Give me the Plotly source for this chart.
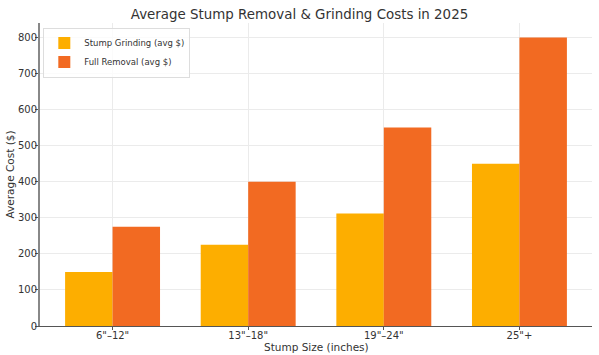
import plotly.graph_objects as go

categories = ['6"–12"', '13"–18"', '19"–24"', '25"+']
grinding = [150, 225, 312, 450]
removal = [275, 400, 550, 800]
y_ticks = [0, 100, 200, 300, 400, 500, 600, 700, 800]

x_pos = list(range(len(categories)))
bw = 0.35

fig = go.Figure()
fig.add_trace(go.Bar(
    x=[p - bw / 2 for p in x_pos], y=grinding, width=bw,
    name="Stump Grinding (avg $)", marker=dict(color="#FDAE00", line=dict(width=0)),
))
fig.add_trace(go.Bar(
    x=[p + bw / 2 for p in x_pos], y=removal, width=bw,
    name="Full Removal (avg $)", marker=dict(color="#F26A22", line=dict(width=0)),
))

font_family = "DejaVu Sans"
fig.update_layout(
    width=599, height=355,
    margin=dict(l=40, r=7, t=23, b=29),
    paper_bgcolor="white", plot_bgcolor="white",
    font=dict(family=font_family, size=10, color="#333"),
    title=dict(text="Average Stump Removal & Grinding Costs in 2025",
               x=0.5, xanchor="center", yref="container", y=1 - 14 / 355, yanchor="middle",
               font=dict(size=13.4, color="#333")),
    barmode="overlay",
    showlegend=True,
    legend=dict(x=0.006, y=0.985, xanchor="left", yanchor="top",
                bgcolor="rgba(255,255,255,0.8)", bordercolor="#ddd", borderwidth=1,
                font=dict(size=8.5, color="#333"), itemwidth=30, tracegroupgap=0),
    xaxis=dict(
        range=[-0.535, 3.535], tickmode="array", tickvals=x_pos, ticktext=categories,
        showgrid=True, gridcolor="#ebebeb", gridwidth=1,
        showline=True, linecolor="#555", linewidth=1,
        ticks="", ticklen=0,
        minor=dict(tickmode="array", tickvals=x_pos, ticks="outside", ticklen=3,
                   tickcolor="#555", showgrid=False),
        tickfont=dict(size=10, color="#333"),
        zeroline=False, automargin=False,
    ),
    yaxis=dict(
        range=[0, 840], tickmode="array", tickvals=y_ticks,
        showgrid=True, gridcolor="#ebebeb", gridwidth=1,
        showline=True, linecolor="#888", linewidth=2,
        ticks="", ticklen=0, ticklabelstandoff=-1,
        minor=dict(tickmode="array", tickvals=y_ticks, ticks="outside", ticklen=3,
                   tickcolor="#555", showgrid=False),
        tickfont=dict(size=10, color="#333"),
        zeroline=False, automargin=False,
    ),
    annotations=[
        dict(text="Stump Size (inches)", xref="paper", yref="paper", x=0.5, y=0,
             xanchor="center", yanchor="middle", yshift=-21, showarrow=False,
             font=dict(size=10.5, color="#333")),
        dict(text="Average Cost ($)", xref="paper", yref="paper", x=0, y=0.5,
             xanchor="center", yanchor="middle", xshift=-31, textangle=-90, showarrow=False,
             font=dict(size=10.5, color="#333")),
    ],
)

fig.write_html("out.html", config={"displayModeBar": False},
               post_script="document.body.style.margin='0';")
